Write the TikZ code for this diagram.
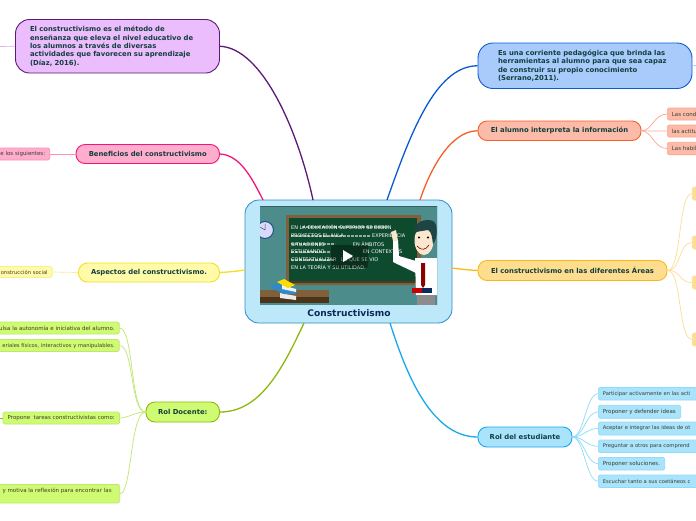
\documentclass[tikz,border=0pt]{standalone}
\usepackage{fontspec}
\setmainfont{DejaVu Sans}
\definecolor{inkmain}{HTML}{123F3E}
\definecolor{inkkid}{HTML}{3C3C2C}
\definecolor{purpF}{HTML}{EBBDFC}\definecolor{purpS}{HTML}{5B1A78}\definecolor{purpL}{HTML}{D9B6E6}
\definecolor{pinkF}{HTML}{FFACCD}\definecolor{pinkS}{HTML}{F0177A}\definecolor{pinkK}{HTML}{FF8CBB}
\definecolor{yellF}{HTML}{FFFBA8}\definecolor{yellS}{HTML}{F2E01E}\definecolor{yellK}{HTML}{F8F08C}
\definecolor{grnF}{HTML}{CFFB72}\definecolor{grnS}{HTML}{8DB90C}\definecolor{grnK}{HTML}{BFE672}
\definecolor{bluF}{HTML}{A8CBFC}\definecolor{bluS}{HTML}{0A5BD0}\definecolor{bluK}{HTML}{9CC4FA}
\definecolor{oraF}{HTML}{FBBBA8}\definecolor{oraS}{HTML}{F4602A}\definecolor{oraK}{HTML}{FBA88E}
\definecolor{ambF}{HTML}{FEDD8F}\definecolor{ambS}{HTML}{FBB917}\definecolor{ambK}{HTML}{FEDD95}
\definecolor{skyF}{HTML}{AAE3FC}\definecolor{skyS}{HTML}{17A9EB}\definecolor{skyK}{HTML}{8EDBFB}
\definecolor{centF}{HTML}{BDE8FA}\definecolor{centS}{HTML}{2E8BC8}
\definecolor{wall}{HTML}{4C8C8A}\definecolor{board}{HTML}{0E4A2E}\definecolor{frameB}{HTML}{80603A}
\definecolor{skin}{HTML}{FBE6CF}\definecolor{hair}{HTML}{1F4444}\definecolor{titleC}{HTML}{0B2A5C}
\tikzset{
  mainbox/.style={draw, line width=.9pt, rounded corners=9pt, inner sep=0pt, text=inkmain,
    font=\fontsize{6.85}{8.45}\selectfont\bfseries},
  kidbox/.style={draw, line width=.7pt, rounded corners=1.5pt, inner ysep=0pt, inner xsep=4.5pt, text=inkkid,
    font=\fontsize{5.5}{6}\selectfont},
  tightkid/.style={font=\fontsize{5.2}{6}\selectfont},
  leftkid/.style={kidbox, anchor=east, align=right, text width=#1},
  rightkid/.style={kidbox, anchor=west, align=left, text width=#1},
  trunk/.style={line width=1.3pt},
  twig/.style={line width=.7pt},
  boardtext/.style={anchor=west, text=white, inner sep=0pt, font=\fontsize{5}{6}\selectfont},
  ghost/.style={white, opacity=.55, line width=2pt, dash pattern=on 3.2pt off .8pt},
}
\begin{document}
\begin{tikzpicture}[x=1pt,y=-1pt]
\path[use as bounding box,clip] (0,0) rectangle (696,520);
\fill[white] (0,0) rectangle (696,520);

% Central topic
\node[draw=centS, fill=centF, line width=.8pt, rounded corners=14pt, minimum width=207pt, minimum height=123pt, inner sep=0pt] (cent) at (348.5,261.5) {};
\node[inner sep=0pt, text=titleC, font=\fontsize{9.1}{10}\selectfont\bfseries] (title) at (349,313) {Constructivismo};

% Video still
\begin{scope}
\clip (260,205.5) rectangle (437,305);
\fill[wall] (260,205.5) rectangle (437,305);
\fill[wall!70!black] (260,205.5) rectangle (437,207);
\fill[frameB] (286,214.5) rectangle (421,285);
\fill[board] (289,218) rectangle (417,281);
\fill[frameB!60!black] (288,281) rectangle (419,283);
% clock
\fill[white!85!blue] (265,230) circle (8.5);
\draw[centS!60!black, line width=1pt] (265,230) circle (8.5);
\draw[black!70, line width=.5pt] (265,230) -- (260,227) (265,230) -- (265,224);
% table and books
\fill[frameB] (260,290) rectangle (329,297);
\fill[black!60!brown] (260,297) rectangle (329,303);
\fill[white!85!gray] (280,293) -- (296,296) -- (296,300) -- (280,298) -- cycle;
\fill[centS] (270,287) -- (276,283) -- (296,289) -- (296,294) -- (284,294) -- cycle;
\fill[white!90!gray] (282,285) -- (296,289) -- (296,292) -- (282,289) -- cycle;
\fill[yellow!80!orange] (277,282) -- (284,279) -- (295,285) -- (288,288) -- cycle;
% board text with its second exposure
\draw[ghost] (302,227) -- (388,227);
\draw[ghost] (291,236) -- (370,236);
\draw[ghost] (291,244) -- (335,244);
\draw[ghost] (291,252) -- (330,252);
\draw[ghost] (291,260) -- (335,260);
\node[boardtext] (b1) at (291,227) {EN LA EDUCACIÓN SUPERIOR SE DEBEN};
\node[boardtext] (b2) at (291,236) {\makebox[114pt]{PROYECTOS EL AULA\hfill EXPERIENCIA}};
\node[boardtext] (b3) at (291,244) {\makebox[93pt]{SITUACIONES\hfill EN ÁMBITOS}};
\node[boardtext] (b4) at (291,252) {\makebox[111pt]{ESTUDIANDO\hfill EN CONTEXTOS}};
\node[boardtext] (b5) at (291,260) {\makebox[87pt]{CONTEXTUALIZAR\hfill LO QUE SE VIO}};
\node[boardtext] (b6) at (291,267.5) {EN LA TEORÍA Y SU UTILIDAD.};
% teacher
\fill[white] (416,261) -- (399,256) -- (398,240) -- (393,240) -- (393,262) -- (416,273) -- cycle;
\fill[skin] (391,232) -- (396,230) -- (398,241) -- (393,241) -- cycle;
\fill[white] (415,258) -- (437,258) -- (437,295) -- (416,295) -- cycle;
\fill[red!55!black] (421,263) -- (425,263) -- (425,285) -- (423,288) -- (421,285) -- cycle;
\fill[black!45] (417,295) rectangle (435,305);
\fill[skin] (424,240.5) ellipse (9.5 and 14.5);
\fill[hair] (415,233) .. controls (413,222) and (425,218) .. (433,221) .. controls (439,224) and (437,240) .. (433,244) .. controls (432,238) and (432,232) .. (428,230) .. controls (423,231) and (418,231) .. (415,233) -- cycle;
\fill[black] (419,237.5) circle (1.1) (428,237.5) circle (1.1);
\draw[red!50!black, line width=.6pt] (417,246) .. controls (421,251) and (426,250) .. (429,245);
\fill[red!80!black] (412,288) rectangle (422,293);
\fill[titleC] (422,288) rectangle (432,293);
\fill[black!80] (437,205.5) rectangle (438,305);
% play control
\fill[black, opacity=.35, rounded corners=2pt] (331,245) rectangle (368,268);
\fill[white] (343,250) -- (353,256) -- (343,262) -- cycle;
\end{scope}

% Branch nodes, left
\node[mainbox, draw=purpS, fill=purpF, rounded corners=14pt, minimum width=204pt, minimum height=53.5pt, inner xsep=14.5pt, text width=175pt, align=left] (purp) at (117.5,46.25) {El constructivismo es el método de\\enseñanza que eleva el nivel educativo de\\los alumnos a través de diversas\\actividades que favorecen su aprendizaje\\(Díaz, 2016).};
\node[mainbox, draw=pinkS, fill=pinkF, minimum width=143.5pt, minimum height=19pt] (pink) at (147.75,154) {Beneficios del constructivismo};
\node[leftkid=90pt, draw=pinkK, fill=pinkF, minimum height=12pt] (pinkA) at (50,154) {e los siguientes:};
\node[mainbox, draw=yellS, fill=yellF, minimum width=141pt, minimum height=19pt] (yell) at (149,272.5) {Aspectos del constructivismo.};
\node[leftkid=90pt, tightkid, draw=yellK, fill=yellF, minimum height=11pt] (yellA) at (52.5,272) {onstrucción social};
\node[mainbox, draw=grnS, fill=grnF, minimum width=73.5pt, minimum height=20pt] (grn) at (182.75,412) {Rol Docente:};
\node[leftkid=160pt, draw=grnK, fill=grnF, minimum height=12pt] (grnA) at (119.5,328) {ulsa la autonomía e iniciativa del alumno.};
\node[leftkid=160pt, tightkid, draw=grnK, fill=grnF, minimum height=12pt] (grnB) at (119.5,345.5) {eriales físicos, interactivos y manipulables.};
\node[kidbox, draw=grnK, fill=grnF, minimum width=116.5pt, minimum height=12pt, inner xsep=0pt] (grnC) at (61.25,418) {Propone\ \ tareas constructivistas como:};
\node[kidbox, anchor=east, draw=grnK, fill=grnF, minimum height=18.5pt, text width=160pt, align=right, inner xsep=8pt] (grnD) at (120,493.75) {y motiva la reflexión para encontrar las\\\mbox{}};

% Branch nodes, right
\node[mainbox, draw=bluS, fill=bluF, rounded corners=15pt, minimum width=214pt, minimum height=45.5pt, inner xsep=20pt, text width=174pt, align=left] (blu) at (585,65.75) {Es una corriente pedagógica que brinda las\\herramientas al alumno para que sea capaz\\de construir su propio conocimiento\\(Serrano,2011).};
\node[mainbox, draw=oraS, fill=oraF, minimum width=163pt, minimum height=19.5pt] (ora) at (559.5,130.75) {El alumno interpreta la información};
\node[rightkid=60pt, draw=oraK, fill=oraF, minimum height=12pt] (oraA) at (667,114) {Las cond};
\node[rightkid=60pt, draw=oraK, fill=oraF, minimum height=12pt] (oraB) at (667,131) {las actitu};
\node[rightkid=60pt, draw=oraK, fill=oraF, minimum height=12.5pt] (oraC) at (667,148.5) {Las habil};
\node[mainbox, draw=ambS, fill=ambF, minimum width=189pt, minimum height=20pt] (amb) at (572.5,270.5) {El constructivismo en las diferentes Áreas};
\node[rightkid=30pt, draw=ambK, fill=ambF, minimum height=13pt] (ambA) at (692,193.5) {\mbox{}};
\node[rightkid=30pt, draw=ambK, fill=ambF, minimum height=13pt] (ambB) at (692,242.5) {\mbox{}};
\node[rightkid=30pt, draw=ambK, fill=ambF, minimum height=13pt] (ambC) at (692,282.5) {\mbox{}};
\node[rightkid=30pt, draw=ambK, fill=ambF, minimum height=13pt] (ambD) at (692,339.5) {\mbox{}};
\node[mainbox, draw=skyS, fill=skyF, minimum width=94pt, minimum height=20pt] (sky) at (525,437) {Rol del estudiante};
\node[rightkid=130pt, tightkid, draw=skyK, fill=skyF, minimum height=12.5pt] (skyA) at (598,393.75) {Participar activamente en las acti};
\node[rightkid=73.5pt, draw=skyK, fill=skyF, minimum height=13pt] (skyB) at (598,411.75) {Proponer y defender ideas};
\node[rightkid=130pt, tightkid, draw=skyK, fill=skyF, minimum height=13pt] (skyC) at (598,428.5) {Aceptar e integrar las ideas de ot};
\node[rightkid=130pt, tightkid, draw=skyK, fill=skyF, minimum height=12.5pt] (skyD) at (598,446.25) {Preguntar a otros para comprend};
\node[rightkid=57.5pt, draw=skyK, fill=skyF, minimum height=12.5pt] (skyE) at (598,463.75) {Proponer soluciones.};
\node[rightkid=130pt, tightkid, draw=skyK, fill=skyF, minimum height=12.5pt] (skyF) at (598,481.25) {Escuchar tanto a sus coetáneos c};

% Free ends at the picture edge
\coordinate (edgeP) at (0,46.5);
\coordinate (edgeB) at (696,65.5);
\coordinate (edgeG) at (0,418);
% Anchors on the central node's border
\coordinate (cPurp) at (313,200);
\coordinate (cPink) at (263,200);
\coordinate (cYell) at (245,270);
\coordinate (cGrn) at (304,323);
\coordinate (cBlu) at (387,200);
\coordinate (cOra) at (420,200);
\coordinate (cAmb) at (452,268);
\coordinate (cSky) at (390,323);

% Trunks
\draw[trunk, purpS] (purp.east) .. controls (262,48) and (298,130) .. (cPurp);
\draw[trunk, pinkS] (pink.east) .. controls (240,155) and (252,178) .. (cPink);
\draw[trunk, yellS] (yell.east) .. controls (230,272) and (238,271) .. (cYell);
\draw[trunk, grnS] (grn.east) .. controls (260,412) and (282,370) .. (cGrn);
\draw[trunk, bluS] (blu.west) .. controls (435,66) and (410,135) .. (cBlu);
\draw[trunk, oraS] (ora.west) .. controls (450,131) and (430,170) .. (cOra);
\draw[trunk, ambS] (amb.west) .. controls (468,270) and (460,269) .. (cAmb);
\draw[trunk, skyS] (sky.west) .. controls (430,437) and (405,370) .. (cSky);

% Twigs
\draw[twig, purpL] (purp.west) -- (edgeP);
\draw[twig, bluK] (blu.east) -- (edgeB);
\draw[twig, pinkK] (pink.west) -- (pinkA.east);
\draw[twig, yellK] (yell.west) -- (yellA.east);
\draw[twig, grnS] (grnC.west) -- (edgeG);
\foreach \k/\a/\b in {grnA/130/134, grnB/130/134, grnC/135/128, grnD/130/132}
  \draw[twig, grnK] (grn.west) .. controls (\a,412) and (\b,0 |- \k.east) .. (\k.east);
\foreach \k in {oraA,oraB,oraC}
  \draw[twig, oraK] (ora.east) .. controls (652,131) and (654,0 |- \k.west) .. (\k.west);
\foreach \k in {ambA,ambB,ambC,ambD}
  \draw[twig, ambK] (amb.east) .. controls (682,270) and (678,0 |- \k.west) .. (\k.west);
\foreach \k in {skyA,skyB,skyC,skyD,skyE,skyF}
  \draw[twig, skyK] (sky.east) .. controls (584,437) and (586,0 |- \k.west) .. (\k.west);
\end{tikzpicture}
\end{document}
